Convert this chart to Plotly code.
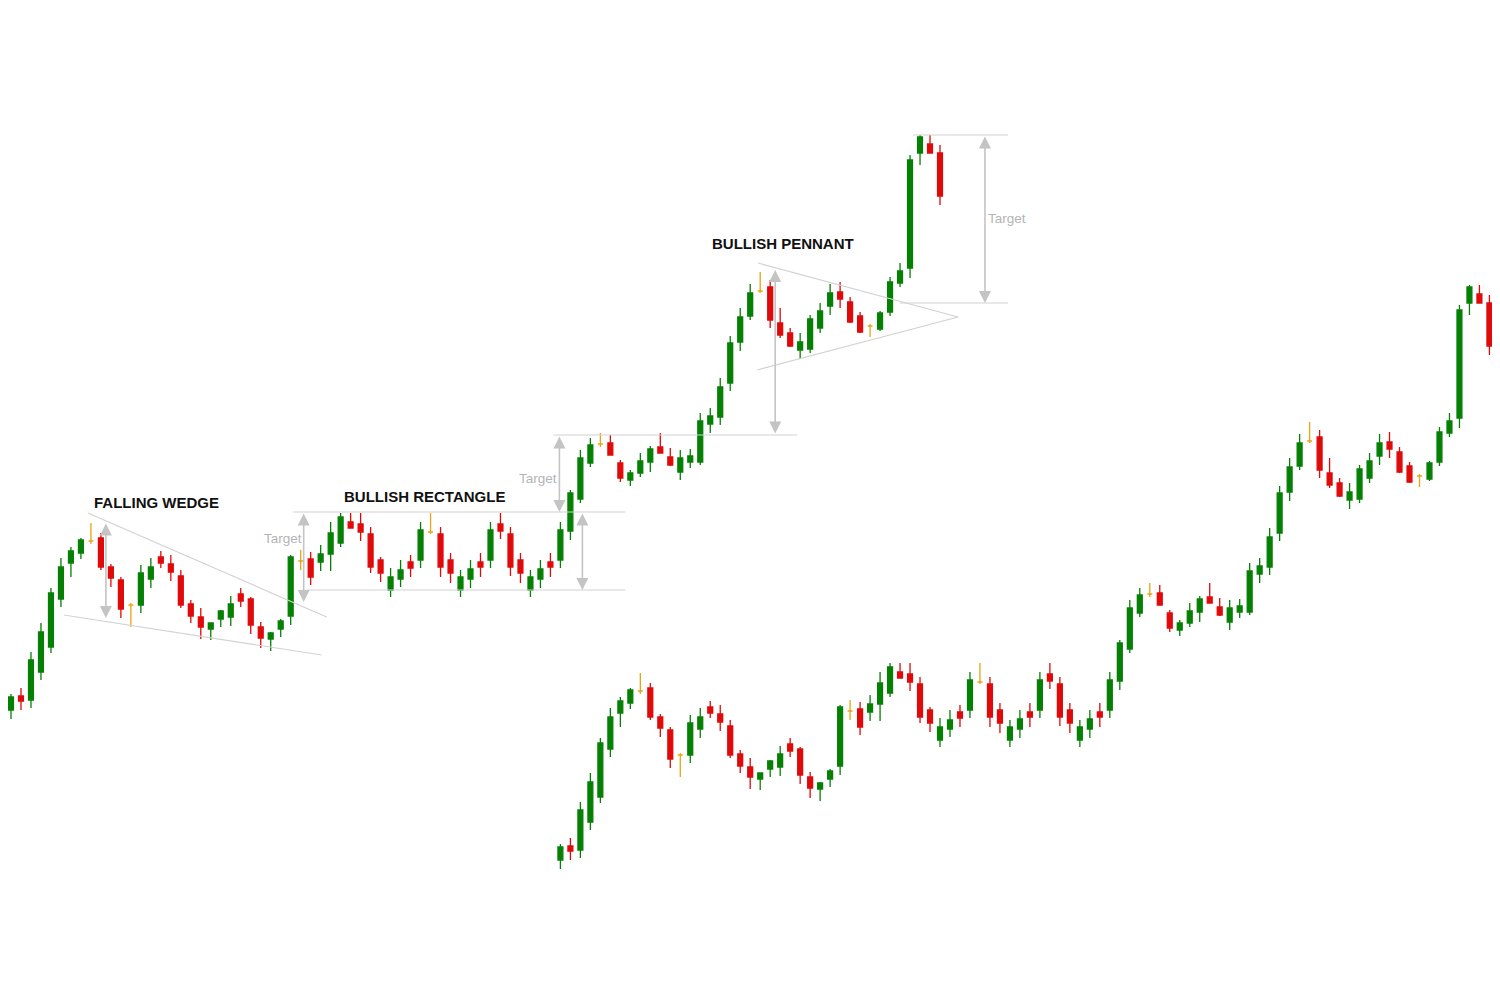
import plotly.graph_objects as go

# ---------------- data (price units) ----------------
open_ = [290, 304, 300, 328, 353, 401, 437, 447, 459, 462, 433, 420, 395, 395, 421, 443, 436, 424, 396, 383,
         371, 381, 383, 406, 401, 373, 361, 371, 384, 439, 441, 438, 446, 457, 478, 476, 466, 440, 410, 421,
         438, 440, 468, 466, 440, 410, 421, 438, 440, 476, 466, 440, 410, 421, 438, 440, 469, 501, 537, 556,
         557, 537, 520, 527, 538, 553, 543, 528, 538, 538, 576, 583, 617, 658, 684, 709, 713, 677, 667, 650,
         651, 672, 694, 708, 698, 684, 674, 671, 688, 717, 732, 847, 856, 847]
high = [306, 312, 348, 377, 412, 442, 453, 462, 477, 467, 436, 423, 397, 435, 442, 449, 445, 430, 400, 392,
        377, 390, 404, 412, 403, 378, 368, 381, 445, 450, 448, 455, 478, 487, 487, 487, 473, 443, 432, 440,
        445, 478, 487, 473, 447, 430, 440, 447, 478, 487, 473, 447, 430, 440, 447, 478, 510, 550, 562, 567,
        565, 540, 530, 547, 554, 567, 552, 550, 551, 587, 592, 622, 664, 692, 716, 728, 720, 692, 672, 667,
        685, 697, 716, 718, 703, 688, 676, 689, 723, 737, 845, 865, 865, 855]
low = [281, 290, 292, 320, 347, 393, 423, 441, 456, 430, 413, 382, 373, 387, 412, 432, 419, 392, 377, 361,
       360, 373, 374, 393, 366, 352, 349, 363, 375, 430, 415, 429, 429, 453, 472, 459, 427, 418, 403, 413,
       423, 432, 466, 423, 417, 403, 412, 423, 432, 461, 424, 417, 403, 412, 423, 432, 460, 497, 533, 553,
       545, 518, 514, 523, 528, 547, 534, 520, 532, 535, 567, 575, 609, 649, 680, 707, 672, 662, 653, 641,
       647, 667, 685, 692, 677, 667, 663, 669, 684, 713, 722, 835, 847, 795]
close = [303, 299, 340, 368, 407, 433, 449, 460, 459, 433, 422, 391, 395, 427, 433, 437, 428, 395, 384, 373,
         377, 389, 396, 399, 375, 362, 367, 379, 443, 439, 423, 446, 467, 483, 472, 468, 433, 427, 423, 430,
         432, 470, 468, 433, 427, 423, 431, 433, 470, 469, 433, 427, 423, 431, 433, 470, 507, 542, 555, 556,
         545, 522, 527, 539, 551, 547, 535, 542, 544, 579, 584, 613, 657, 683, 707, 709, 680, 665, 654, 658,
         681, 689, 707, 701, 678, 668, 674, 687, 718, 729, 840, 863, 847, 804]

# the same price path repeated lower-right, without annotations
SERIES2_SHIFT_BARS = 55
SERIES2_SHIFT_PRICE = -150

GREEN = "#058005"
RED = "#e00a0a"
DOJI = "#e8a412"

n = len(open_)
idx = list(range(n))


def split(shift_x, shift_p):
    reg = {"x": [], "o": [], "h": [], "l": [], "c": []}
    doj = {"x": [], "o": [], "h": [], "l": [], "c": []}
    for i in idx:
        d = doj if open_[i] == close[i] else reg
        d["x"].append(i + shift_x)
        d["o"].append(open_[i] + shift_p)
        d["h"].append(high[i] + shift_p)
        d["l"].append(low[i] + shift_p)
        d["c"].append(close[i] + shift_p)
    return reg, doj


fig = go.Figure()
for sx, sp in [(0, 0), (SERIES2_SHIFT_BARS, SERIES2_SHIFT_PRICE)]:
    reg, doj = split(sx, sp)
    fig.add_trace(go.Candlestick(
        x=reg["x"], open=reg["o"], high=reg["h"], low=reg["l"], close=reg["c"],
        increasing=dict(line=dict(color=GREEN, width=1.3), fillcolor=GREEN),
        decreasing=dict(line=dict(color=RED, width=1.3), fillcolor=RED),
        whiskerwidth=0, hoverinfo="skip", showlegend=False))
    fig.add_trace(go.Candlestick(
        x=doj["x"], open=doj["o"], high=doj["h"], low=doj["l"], close=doj["c"],
        increasing=dict(line=dict(color=DOJI, width=1.3), fillcolor=DOJI),
        decreasing=dict(line=dict(color=DOJI, width=1.3), fillcolor=DOJI),
        whiskerwidth=0, hoverinfo="skip", showlegend=False))

# ---------------- annotation geometry (bar index, price) ----------------
LINE_COL = "#d2d2d2"
ARROW_COL = "#c4c4c4"
guide_lines = [
    # falling wedge
    (7.7, 487, 31.6, 383),
    (5.3, 385, 31.1, 345),
    # bullish rectangle
    (28.2, 488, 61.5, 488),
    (29.6, 410, 61.5, 410),
    (54.3, 565, 78.7, 565),
    # bullish pennant
    (74.8, 737, 94.8, 683),
    (74.7, 630, 94.8, 683),
    (89.0, 697, 99.8, 697),
    (90.3, 865, 99.8, 865),
]
for x0, y0, x1, y1 in guide_lines:
    fig.add_shape(type="line", x0=x0, y0=y0, x1=x1, y1=y1, xref="x", yref="y",
                  line=dict(color=LINE_COL, width=1.2))

arrows = [
    (9.5, 478, 382),
    (29.3, 488, 398),
    (54.9, 565, 488),
    (57.2, 488, 410),
    (76.5, 565, 730),
    (97.5, 865, 697),
]
for ax_, y0, y1 in arrows:
    fig.add_annotation(x=ax_, y=y1, ax=ax_, ay=y0, xref="x", yref="y", axref="x", ayref="y",
                       text="", showarrow=True, arrowhead=2, arrowside="end+start",
                       arrowsize=1.5, arrowwidth=1.6, arrowcolor=ARROW_COL,
                       standoff=0, startstandoff=0)

TITLE_FONT = dict(family="Liberation Sans, Arial, sans-serif",
                  size=15, color="#111111")
labels = [
    (14.6, 498, "<b>FALLING WEDGE</b>"),
    (41.4, 504, "<b>BULLISH RECTANGLE</b>"),
    (77.3, 757, "<b>BULLISH PENNANT</b>"),
]
for x, y, t in labels:
    fig.add_annotation(x=x, y=y, text=t, showarrow=False, font=TITLE_FONT, xref="x", yref="y")

TARGET_FONT = dict(family="Liberation Sans, Arial, sans-serif",
                   size=13.5, color="#b4b4b4")
targets = [(27.2, 462), (52.8, 522), (99.7, 782)]
for x, y in targets:
    fig.add_annotation(x=x, y=y, text="Target", showarrow=False, font=TARGET_FONT, xref="x", yref="y")

fig.update_layout(
    width=1500, height=1000,
    margin=dict(l=0, r=0, t=0, b=0),
    paper_bgcolor="white", plot_bgcolor="white",
    showlegend=False,
    boxgap=0.3,
    xaxis=dict(range=[-0.3, 149.86], visible=False, showgrid=False, zeroline=False,
               rangeslider=dict(visible=False), fixedrange=True),
    yaxis=dict(range=[-8, 992], visible=False, showgrid=False, zeroline=False, fixedrange=True),
)

fig.write_html("out.html")
